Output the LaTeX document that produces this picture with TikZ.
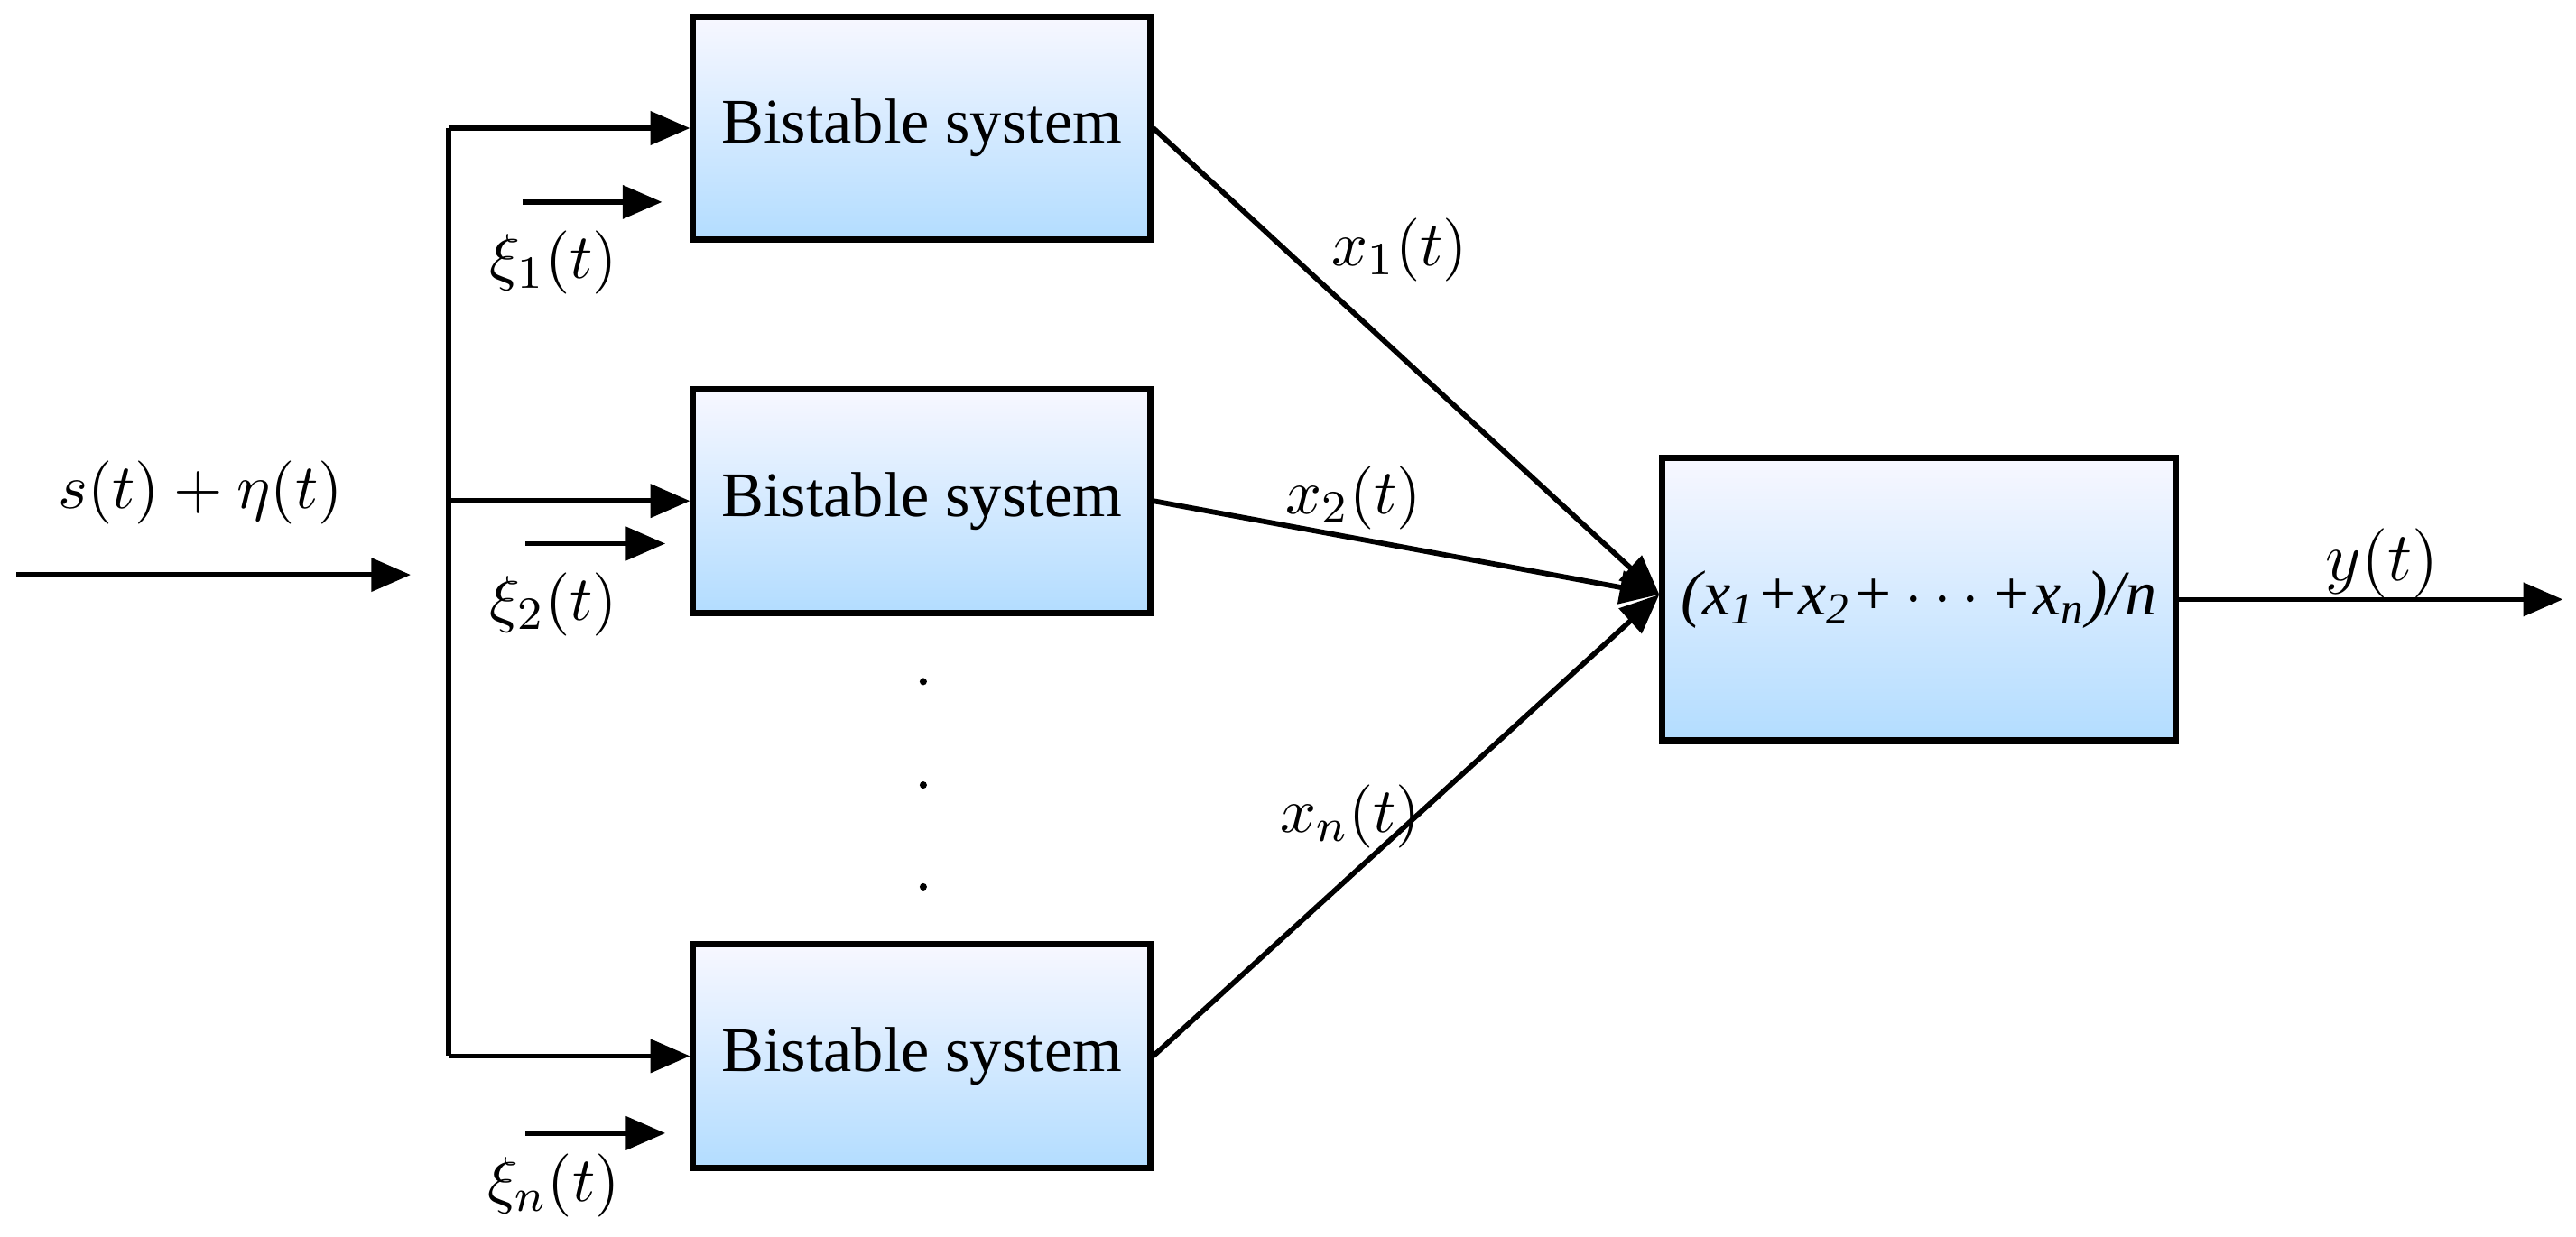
\documentclass[tikz,border=0pt]{standalone}
\usepackage{fontspec}
\setmainfont{Liberation Serif}
\usetikzlibrary{arrows.meta}
\begin{document}
\begin{tikzpicture}[x=0.01cm,y=-0.01cm,
  box/.style={draw,line width=1.1pt,top color=blue!3,bottom color=blue!45!cyan!30,
    minimum width=2.78cm,minimum height=1.36cm,font=\fontsize{11pt}{13pt}\selectfont},
  arr/.style={line width=0.9pt,-{Triangle[length=0.24cm,width=0.2cm]}},
  ln/.style={line width=0.9pt},
  lab/.style={font=\fontsize{11pt}{13pt}\selectfont}]
  \useasboundingbox (0,0) rectangle (1568,753);
  \node[box] (b1) at (561,78) {Bistable system};
  \node[box] (b2) at (561,305) {Bistable system};
  \node[box] (bn) at (561,643) {Bistable system};
  \node[box,minimum width=3.07cm,minimum height=1.72cm] (avg) at (1168,365)
    {\itshape (x\textsubscript{1}+x\textsubscript{2}+\,$\cdots$\,+x\textsubscript{n})/n};

  \coordinate (in) at (10,350);
  \coordinate (inend) at (250,350);
  \coordinate (top) at (273,78);
  \coordinate (mid) at (273,305);
  \coordinate (bot) at (273,643);
  \coordinate (join) at (1010,362);
  \coordinate (out) at (1560,365);

  \draw[arr] (in) -- (inend);
  \node[lab] (s) at (122,300) {$s(t)+\eta(t)$};
  \draw[ln] (top) -- (bot);
  \draw[arr] (top) -- (b1.west);
  \draw[arr] (mid) -- (b2.west);
  \draw[arr] (bot) -- (bn.west);

  \coordinate (n1a) at (318,123); \coordinate (n1b) at (403,123);
  \coordinate (n2a) at (320,331); \coordinate (n2b) at (405,331);
  \coordinate (n3a) at (320,690); \coordinate (n3b) at (405,690);
  \draw[arr] (n1a) -- (n1b);
  \draw[arr] (n2a) -- (n2b);
  \draw[arr] (n3a) -- (n3b);
  \node[lab] (xi1) at (337,160) {$\xi_1(t)$};
  \node[lab] (xi2) at (337,368) {$\xi_2(t)$};
  \node[lab] (xin) at (337,722) {$\xi_n(t)$};

  \draw[arr] (b1.east) -- (join);
  \draw[arr] (b2.east) -- (join);
  \draw[arr] (bn.east) -- (join);
  \node[lab] (x1) at (852,152) {$x_1(t)$};
  \node[lab] (x2) at (824,303) {$x_2(t)$};
  \node[lab] (xn) at (822,497) {$x_n(t)$};

  \foreach \y in {415,478,540} \fill (562,\y) circle (2.2);

  \draw[arr] (avg.east) -- (out);
  \node[font=\fontsize{13pt}{15pt}\selectfont] (y) at (1450,343) {$y(t)$};
\end{tikzpicture}
\end{document}
